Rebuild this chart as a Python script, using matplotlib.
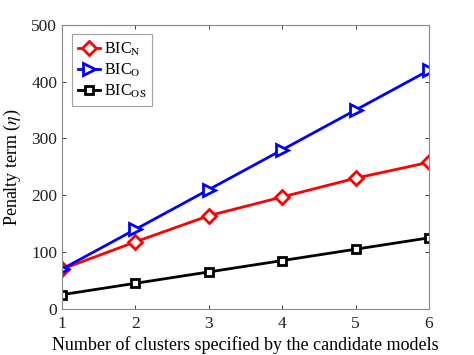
import matplotlib
matplotlib.use('Agg')
import matplotlib.pyplot as plt

# data
clusters = [1, 2, 3, 4, 5, 6]
bic_n = [70, 118, 164, 197, 230, 258]
bic_o = [70, 140, 210, 280, 350, 420]
bic_os = [25, 45, 65, 85, 105, 125]

plt.rcParams['font.family'] = 'Liberation Serif'
plt.rcParams['mathtext.fontset'] = 'stix'

fig = plt.figure(figsize=(4.74, 3.55), dpi=100)
ax = fig.add_axes([0.131, 0.130, 0.774, 0.800])

ax.plot(clusters, bic_n, '-D', color='red', lw=2, ms=7, mfc='white', mec='red', mew=2,
        label=r'BIC$_\mathrm{N}$')
ax.plot(clusters, bic_o, '->', color='blue', lw=2, ms=9, mfc='white', mec='blue', mew=2,
        label=r'BIC$_\mathrm{O}$')
ax.plot(clusters, bic_os, '-s', color='black', lw=2, ms=6, mfc='white', mec='black', mew=2,
        label=r'BIC$_\mathrm{OS}$')

ax.set_xlim(1, 6)
ax.set_ylim(0, 500)
ax.set_xticks(clusters)
ax.set_yticks([0, 100, 200, 300, 400, 500])
ax.tick_params(direction='in', top=True, right=True, labelsize=12.5, colors='#222222',
               length=3, width=0.6)
ax.tick_params(axis='x', pad=5)
for tl in ax.get_xticklabels() + ax.get_yticklabels():
    tl.set_color('#222222')
for sp in ax.spines.values():
    sp.set_color('#888888')
    sp.set_linewidth(0.8)

ax.set_xlabel('Number of clusters specified by the candidate models', fontsize=13,
              labelpad=3)
ax.set_ylabel(r'Penalty term ($\eta$)', fontsize=13, labelpad=6)

leg = ax.legend(loc='upper left', fontsize=11.5, frameon=True, fancybox=False,
                edgecolor='#888888', handlelength=1.4, borderaxespad=0.6,
                labelspacing=0.25, handletextpad=0.2, borderpad=0.4)
leg.get_frame().set_linewidth(0.8)

fig.savefig('out.png', dpi=100)
